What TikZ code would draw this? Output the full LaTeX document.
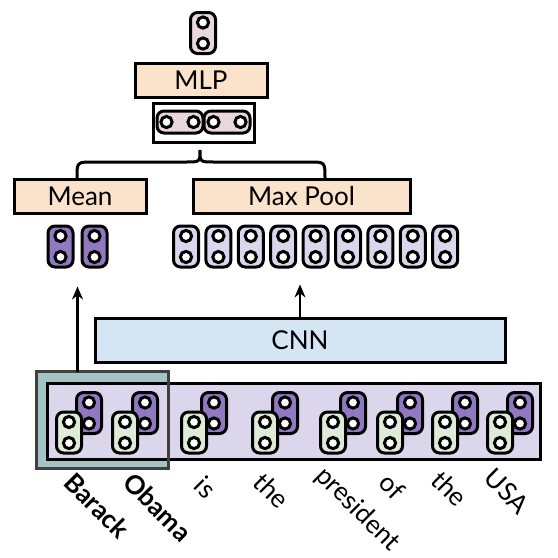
\documentclass[tikz,border=0pt]{standalone}
\usepackage{fontspec}
\setmainfont{Lato}
\usetikzlibrary{arrows.meta,calc}

\definecolor{peach}{HTML}{FBE3CB}
\definecolor{rose}{HTML}{E9D6DF}
\definecolor{darkpurple}{HTML}{9079C0}
\definecolor{lavender}{HTML}{DCD6EC}
\definecolor{palegreen}{HTML}{DDEBD7}
\definecolor{cnnblue}{HTML}{D4E5F4}
\definecolor{tealgray}{HTML}{A2C4C5}

\tikzset{
    box/.style={draw, line width=1.5pt, inner sep=0pt, minimum height=17pt, font=\fontsize{13}{15}\selectfont},
    vec/.style={draw, line width=1.5pt, rounded corners=3.5pt, inner sep=0pt, minimum width=12.5pt, minimum height=20.5pt},
    hvec/.style={vec, minimum width=23pt, minimum height=11pt},
    dot/.style={circle, draw, fill=white, line width=1.5pt, minimum size=5.6pt, inner sep=0pt},
    word/.style={rotate=-45, anchor=north west, inner sep=0pt, font=\fontsize{13}{15}\selectfont},
    arr/.style={-{Stealth[length=6.5pt,width=5.5pt]}, line width=1.2pt}
}

% column vector: name, position, colour
\newcommand\colvec[3]{%
    \node[vec, fill=#3] (#1) at #2 {};
    \node[dot] (#1-t) at ([yshift=5.25pt]#1.center) {};
    \node[dot] (#1-b) at ([yshift=-5.25pt]#1.center) {};
}
% row vector: name, position, colour
\newcommand\rowvec[3]{%
    \node[hvec, fill=#3] (#1) at #2 {};
    \node[dot] (#1-l) at ([xshift=-6.75pt]#1.center) {};
    \node[dot] (#1-r) at ([xshift=6.75pt]#1.center) {};
}

\begin{document}
\begin{tikzpicture}[x=0.5pt,y=-0.5pt]

    \useasboundingbox (0,0) rectangle (558,558);

    % output and MLP
    \colvec{out}{(203,33)}{rose}
    \node[box, fill=peach, minimum width=66pt] (mlp) at (201,80) {MLP};

    % concatenated features
    \node[draw, line width=1.5pt, fill=white, inner sep=0pt, minimum width=50.5pt, minimum height=19.5pt] (concat) at (203.5,122.5) {};
    \rowvec{cat1}{(180,122)}{rose}
    \rowvec{cat2}{(227,122)}{rose}

    % brace
    \draw[line width=1.5pt] (77,178) .. controls (77,162) .. (93,162) -- (186,162)
        .. controls (200,162) .. (200,150) .. controls (200,162) .. (214,162)
        -- (309,162) .. controls (325,162) .. (325,178);

    % pooling boxes
    \node[box, fill=peach, minimum width=66pt] (mean) at (80,196) {Mean};
    \node[box, fill=peach, minimum width=108.5pt] (maxpool) at (301.5,196) {Max Pool};

    % pooled vectors
    \colvec{m1}{(60.5,246.5)}{darkpurple}
    \colvec{m2}{(94.5,246.5)}{darkpurple}
    \foreach \i in {0,...,8} {
        \colvec{mp\i}{(186+32.4*\i,246.5)}{lavender}
    }

    % CNN
    \node[box, fill=cnnblue, minimum width=205pt, minimum height=22pt] (cnn) at (300,340) {CNN};

    % entity span and sentence
    \node[fill=tealgray, inner sep=0pt, minimum width=65.5pt, minimum height=48pt] (span) at (102.5,420) {};
    \node[draw, line width=1.5pt, fill=lavender, inner sep=0pt, minimum width=246.5pt, minimum height=38pt] (sent) at (293.5,421) {};
    \draw[line width=1.5pt, draw={black!75}] (span.north west) rectangle (span.south east);

    % token embeddings
    \foreach \x [count=\k] in {69,125,194,265,333,390,445,500} {
        \colvec{p\k}{(\x+20,413)}{darkpurple}
        \colvec{g\k}{(\x,432.5)}{palegreen}
    }

    % arrows
    \coordinate (meanmid) at ($(m1.south)!0.5!(m2.south)$);
    \draw[arr, shorten >=9pt] (span.north -| meanmid) -- (meanmid);
    \draw[arr, shorten >=8pt] (cnn.north) -- (cnn.north |- mp3.south);

    % words
    \node[word, font=\fontsize{13}{15}\selectfont\bfseries] (w1) at (76,470) {Barack};
    \node[word, font=\fontsize{13}{15}\selectfont\bfseries] (w2) at (135,470) {Obama};
    \node[word] (w3) at (206,474) {is};
    \node[word] (w4) at (265,470) {the};
    \node[word] (w5) at (328,463) {president};
    \node[word] (w6) at (391,471) {of};
    \node[word] (w7) at (443,468) {the};
    \node[word] (w8) at (496,466) {USA};

\end{tikzpicture}
\end{document}
